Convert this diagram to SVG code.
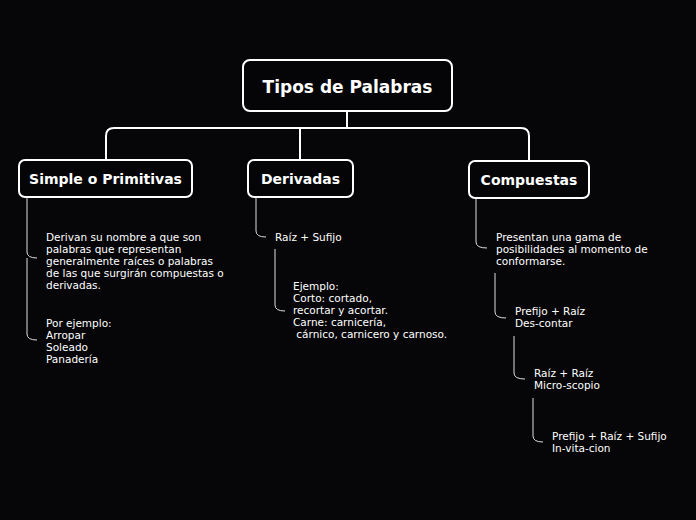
<svg xmlns="http://www.w3.org/2000/svg" width="696" height="520" viewBox="0 0 696 520">
<style>
.box{fill:#050507;stroke:#fff;stroke-width:2}
.h{font-family:"DejaVu Sans",Verdana,sans-serif;font-weight:bold;fill:#fff;text-anchor:middle}
.t{font-family:"DejaVu Sans",Verdana,sans-serif;font-size:10.5px;fill:#fff}
.c{fill:none;stroke:#fff;stroke-width:2}
.s{fill:none;stroke:#ddd;stroke-width:1}
</style>
<rect width="696" height="520" fill="#060608"/>
<g id="connectors">
<path class="c" d="M347 111V128M106 160V136Q106 128 114 128H521Q529 128 529 136V161M300 160V128"/>
<path class="s" d="M27 197V252Q27 258 37 258M27 258V334Q27 340 37 340"/>
<path class="s" d="M256 197V231Q256 237 266 237M275 249V305Q275 311 285 311"/>
<path class="s" d="M476 198V242Q476 248 487 248M495 273V312Q495 318 506 318M514 336V373Q514 379 525 379M533 398V436Q533 442 543 442"/>
</g>
<g id="root"><rect class="box" x="243" y="60" width="209" height="51" rx="7" stroke-width="3"/><text class="h" x="347.5" y="93" font-size="17">Tipos de Palabras</text></g>
<g id="simple"><rect class="box" x="19" y="160" width="173" height="37" rx="6"/><text class="h" x="105.5" y="184" font-size="14">Simple o Primitivas</text></g>
<g id="derivadas"><rect class="box" x="248" y="160" width="105" height="37" rx="6"/><text class="h" x="300.5" y="184" font-size="14">Derivadas</text></g>
<g id="compuestas"><rect class="box" x="469" y="161" width="120" height="37" rx="6"/><text class="h" x="529" y="185" font-size="14">Compuestas</text></g>
<g id="simple-desc"><text class="t"><tspan x="46" y="241">Derivan su nombre a que son</tspan><tspan x="46" y="253">palabras que representan</tspan><tspan x="46" y="265">generalmente raíces o palabras</tspan><tspan x="46" y="277">de las que surgirán compuestas o</tspan><tspan x="46" y="289">derivadas.</tspan></text></g>
<g id="simple-ej"><text class="t"><tspan x="46" y="327">Por ejemplo:</tspan><tspan x="46" y="339">Arropar</tspan><tspan x="46" y="351">Soleado</tspan><tspan x="46" y="363">Panadería</tspan></text></g>
<g id="raiz-sufijo"><text class="t" x="275" y="241">Raíz + Sufijo</text></g>
<g id="der-ej"><text class="t"><tspan x="293" y="290">Ejemplo:</tspan><tspan x="293" y="302">Corto: cortado,</tspan><tspan x="293" y="314">recortar y acortar.</tspan><tspan x="293" y="326">Carne: carnicería,</tspan><tspan x="293" y="338"> cárnico, carnicero y carnoso.</tspan></text></g>
<g id="comp-desc"><text class="t"><tspan x="496" y="241">Presentan una gama de</tspan><tspan x="496" y="253">posibilidades al momento de</tspan><tspan x="496" y="265">conformarse.</tspan></text></g>
<g id="prefijo-raiz"><text class="t"><tspan x="515" y="315">Prefijo + Raíz</tspan><tspan x="515" y="327">Des-contar</tspan></text></g>
<g id="raiz-raiz"><text class="t"><tspan x="534" y="377">Raíz + Raíz</tspan><tspan x="534" y="389">Micro-scopio</tspan></text></g>
<g id="prefijo-raiz-sufijo"><text class="t"><tspan x="552" y="440">Prefijo + Raíz + Sufijo</tspan><tspan x="552" y="452">In-vita-cion</tspan></text></g>
</svg>
